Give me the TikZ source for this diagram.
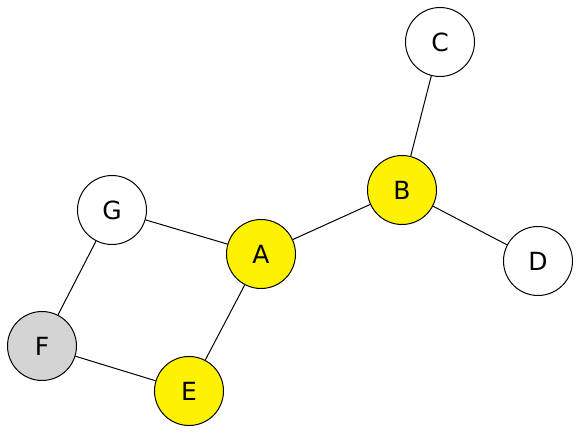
\documentclass[tikz,border=0pt]{standalone}
\usepackage{fontspec}
\setmainfont{DejaVu Sans}
\begin{document}
\begin{tikzpicture}[x=1pt,y=-1pt,
  vertex/.style={circle,draw=black,line width=1pt,minimum size=69pt,inner sep=0pt,font=\fontsize{25}{28}\selectfont,fill=white},
  edge/.style={draw=black,line width=1pt}]
\useasboundingbox (0,0) rectangle (582,435);
\node[vertex] (C) at (440,42) {C};
\node[vertex,fill=yellow] (B) at (402,190) {B};
\node[vertex] (D) at (538,261) {D};
\node[vertex] (G) at (112,210) {G};
\node[vertex,fill=yellow] (A) at (261,254) {A};
\node[vertex,fill=black!17] (F) at (42,346) {F};
\node[vertex,fill=yellow] (E) at (189,391) {E};
\draw[edge] (C) -- (B);
\draw[edge] (B) -- (A);
\draw[edge] (B) -- (D);
\draw[edge] (G) -- (A);
\draw[edge] (A) -- (E);
\draw[edge] (G) -- (F);
\draw[edge] (F) -- (E);
\end{tikzpicture}
\end{document}
